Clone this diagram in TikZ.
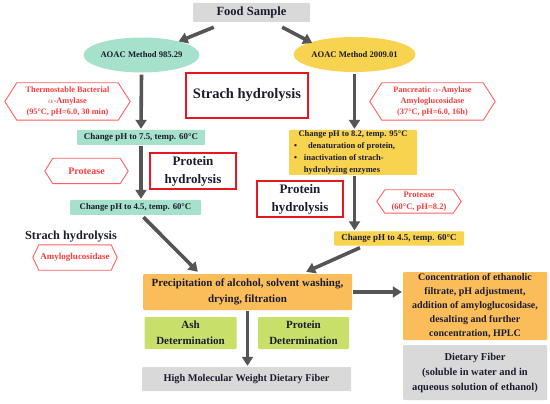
\documentclass[tikz,border=0pt]{standalone}
\usepackage{fontspec}
\setmainfont{Liberation Serif}
\usetikzlibrary{arrows.meta,shapes.geometric,calc}
\definecolor{mint}{HTML}{A6E1CB}
\definecolor{yel}{HTML}{F8D34F}
\definecolor{orng}{HTML}{FBBD59}
\definecolor{grn}{HTML}{C8E06A}
\definecolor{gry}{HTML}{D9D9D9}
\definecolor{redtxt}{HTML}{FF3B3B}
\definecolor{redbox}{HTML}{E8161F}
\definecolor{hexline}{HTML}{FF6060}
\definecolor{txtc}{HTML}{1C1C30}
\definecolor{arrc}{HTML}{555555}
\newcommand\fs[2]{\fontsize{#1}{#2}\selectfont}
\newcommand\hexdraw[2]{\draw[hexl] (#1.west) -- ([xshift=#2pt]#1.north west) -- ([xshift=-#2pt]#1.north east) -- (#1.east) -- ([xshift=-#2pt]#1.south east) -- ([xshift=#2pt]#1.south west) -- cycle;}
\tikzset{
  base/.style={inner sep=0pt, align=center, font=\bfseries, text=txtc},
  fillbox/.style={base, rectangle, rounded corners=1pt, minimum width=#1},
  graybox/.style={fillbox=#1, fill=gry},
  mintbox/.style={fillbox=#1, fill=mint},
  yelbox/.style={fillbox=#1, fill=yel},
  orbox/.style={fillbox=#1, fill=orng},
  grnbox/.style={fillbox=#1, fill=grn},
  ellip/.style={base, ellipse, minimum width=94pt, minimum height=35pt},
  redframe/.style={base, draw=redbox, line width=1.6pt, minimum width=#1},
  hexnode/.style={base, text=redtxt, minimum width=#1},
  hexl/.style={draw=hexline, line width=0.9pt},
  arr/.style={draw=arrc, line width=3.6pt, -{Triangle[length=9pt,width=11pt]}},
}
\begin{document}
\begin{tikzpicture}[x=1pt,y=-1pt]
\useasboundingbox (0,0) rectangle (550,404);
% top
\node[graybox=117pt, minimum height=19pt, font=\bfseries\fs{12.5}{14}] (food) at (251.5,12.5) {Food Sample};
\node[ellip, fill=mint, font=\bfseries\fs{8.6}{10}] (m1) at (141.5,55) {AOAC Method 985.29};
\node[ellip, fill=yel, font=\bfseries\fs{8.6}{10}] (m2) at (354.5,54.5) {AOAC Method 2009.01};
% enzymes row 1
\node[hexnode=125pt, minimum height=37pt, font=\bfseries\fs{8.3}{11}] (h1) at (67.5,101.5) {Thermostable Bacterial\\$\alpha$-Amylase\\(95\textdegree C, pH=6.0, 30 min)};
\hexdraw{h1}{12}
\node[redframe=122pt, minimum height=45pt, font=\bfseries\fs{14.5}{17}] (sh1) at (247,95.5) {Strach hydrolysis};
\node[hexnode=125pt, minimum height=37pt, font=\bfseries\fs{8.3}{11}] (h2) at (432.5,101.5) {Pancreatic $\alpha$-Amylase\\Amyloglucosidase\\(37\textdegree C, pH=6.0, 16h)};
\hexdraw{h2}{12}
% left column
\node[mintbox=128pt, minimum height=15pt, font=\bfseries\fs{8.9}{10}] (c1) at (141,137.5) {Change pH to 7.5, temp. 60\textdegree C};
\node[hexnode=83pt, minimum height=25pt, font=\bfseries\fs{10}{12}] (hp1) at (86.5,171) {Protease};
\hexdraw{hp1}{8}
\node[redframe=86pt, minimum height=36pt, font=\bfseries\fs{13}{18}] (ph1) at (193,171) {Protein\\hydrolysis};
\node[mintbox=131pt, minimum height=15pt, font=\bfseries\fs{8.7}{10}] (c2) at (135.5,207.5) {Change pH to 4.5, temp. 60\textdegree C};
\node[base, font=\bfseries\fs{12.3}{14}] (sh2) at (71,237) {Strach hydrolysis};
\node[hexnode=84pt, minimum height=25pt, font=\bfseries\fs{9}{11}] (ha) at (75,257.5) {Amyloglucosidase};
\hexdraw{ha}{6}
% right column
\node[yelbox=128pt, minimum height=45pt, font=\bfseries\fs{8.5}{11.7}, align=left] (y1) at (353,152.5) {\makebox[118pt]{Change pH to 8.2, temp. 95\textdegree C}\\\textbullet\hspace{9pt} denaturation of protein,\\\textbullet\hspace{7pt}inactivation of strach-\\\hphantom{\textbullet\hspace{7pt}}hydrolyzing enzymes};
\node[redframe=86pt, minimum height=36pt, font=\bfseries\fs{13}{18}] (ph2) at (300,199) {Protein\\hydrolysis};
\node[hexnode=84pt, minimum height=23pt, font=\bfseries\fs{8.5}{11.5}] (hp2) at (419,201.5) {Protease\\(60\textdegree C, pH=8.2)};
\hexdraw{hp2}{8}
\node[yelbox=130pt, minimum height=14pt, font=\bfseries\fs{9}{10}] (y2) at (399,238.5) {Change pH to 4.5, temp. 60\textdegree C};
% bottom
\node[orbox=209pt, minimum height=36pt, font=\bfseries\fs{11}{16}] (p) at (247.5,292) {Precipitation of alcohol, solvent washing,\\drying, filtration};
\node[grnbox=92pt, minimum height=32pt, font=\bfseries\fs{11}{16}] (ash) at (190.5,333) {Ash\\Determination};
\node[grnbox=91pt, minimum height=32pt, font=\bfseries\fs{11}{16}] (prot) at (303.5,333) {Protein\\Determination};
\node[graybox=209pt, minimum height=24pt, font=\bfseries\fs{10.3}{12}] (hm) at (246.5,379) {High Molecular Weight Dietary Fiber};
\node[orbox=144pt, minimum height=68pt, font=\bfseries\fs{10}{14}] (r1) at (475,306) {Concentration of ethanolic\\filtrate, pH adjustment,\\addition of amyloglucosidase,\\desalting and further\\concentration, HPLC};
\node[graybox=144pt, minimum height=55pt, font=\bfseries\fs{10.5}{15}] (r2) at (475,372.5) {Dietary Fiber\\(soluble in water and in\\aqueous solution of ethanol)};
% arrows
\draw[arr] ($(food.south west)+(21,5)$) -- ($(m1.north east)+(-4,-1)$);
\draw[arr] ($(food.south east)+(-28,5)$) -- ($(m2.north west)+(1,1)$);
\draw[arr] ($(m1.south)+(0,2)$) -- ($(c1.north)+(0,-1)$);
\draw[arr] ($(m2.south)+(0,2)$) -- ($(m2.south |- y1.north)+(0,-1)$);
\draw[arr] ($(c1.south)+(0,1)$) -- ($(c1.south |- c2.north)+(0,-1)$);
\draw[arr] ($(m2.south |- y1.south)+(0,1)$) -- ($(m2.south |- y2.north)+(0,-1)$);
\draw[arr] ($(c2.south)+(8,2)$) -- ($(p.north west)+(55,-2)$);
\draw[arr] ($(y2.south)+(-39,2)$) -- ($(p.north east)+(-46,-2)$);
\draw[arr] ($(p.south)+(0,1)$) -- ($(p.south |- hm.north)+(0,-1)$);
\draw[arr] ($(p.east)+(1,0)$) -- ($(p.east -| r1.west)+(-1,0)$);
\end{tikzpicture}
\end{document}
